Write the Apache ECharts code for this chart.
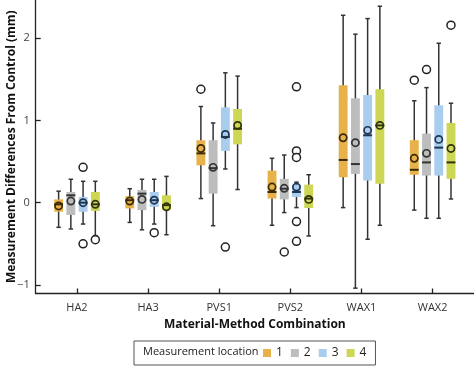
<!DOCTYPE html>
<html>
<head>
<meta charset="utf-8">
<script src="https://cdn.jsdelivr.net/npm/echarts@6/dist/echarts.min.js"></script>
<style>
html,body{margin:0;padding:0;background:#fff;}
#chart{width:474px;height:366px;}
</style>
</head>
<body>
<div id="chart"></div>
<script>
// ---- data ----
const categories = ['HA2', 'HA3', 'PVS1', 'PVS2', 'WAX1', 'WAX2'];
const locations = ['1', '2', '3', '4'];
const yTicks = [-1, 0, 1, 2];

// [whiskerLow, Q1, median, Q3, whiskerHigh] per category
const loc1Box = [
  [-0.30, -0.11, -0.02, 0.04, 0.14],
  [-0.24, -0.07, 0.03, 0.08, 0.17],
  [0.05, 0.455, 0.60, 0.76, 1.17],
  [-0.275, 0.05, 0.13, 0.39, 0.54],
  [-0.06, 0.31, 0.52, 1.43, 2.28],
  [-0.09, 0.34, 0.40, 0.76, 1.24]
];
const loc2Box = [
  [-0.32, -0.15, 0.09, 0.13, 0.285],
  [-0.33, -0.09, 0.11, 0.155, 0.285],
  [-0.28, 0.11, 0.42, 0.76, 0.97],
  [-0.12, 0.04, 0.17, 0.29, 0.58],
  [-1.04, 0.35, 0.47, 1.27, 2.05],
  [-0.19, 0.33, 0.49, 0.84, 1.40]
];
const loc3Box = [
  [-0.26, -0.11, 0.0, 0.07, 0.26],
  [-0.26, -0.05, 0.03, 0.13, 0.285],
  [0.41, 0.63, 0.80, 1.16, 1.58],
  [-0.06, 0.07, 0.13, 0.22, 0.25],
  [-0.445, 0.27, 0.82, 1.31, 2.24],
  [-0.19, 0.33, 0.67, 1.185, 1.94]
];
const loc4Box = [
  [-0.40, -0.10, -0.02, 0.13, 0.26],
  [-0.39, -0.09, -0.03, 0.09, 0.32],
  [0.16, 0.71, 0.90, 1.14, 1.54],
  [-0.405, -0.065, 0.05, 0.22, 0.34],
  [-0.275, 0.23, 0.94, 1.38, 2.39],
  [0.045, 0.29, 0.49, 0.97, 1.21]
];
// means per category
const loc1Mean = [-0.04, 0.02, 0.66, 0.19, 0.79, 0.54];
const loc2Mean = [0.02, 0.04, 0.43, 0.175, 0.73, 0.60];
const loc3Mean = [0.0, 0.03, 0.83, 0.19, 0.88, 0.77];
const loc4Mean = [-0.02, -0.05, 0.94, 0.04, 0.94, 0.66];
// outliers [categoryIndex, value]
const loc1Out = [[2, 1.38], [5, 1.49]];
const loc2Out = [[3, -0.60], [5, 1.62]];
const loc3Out = [[0, 0.43], [0, -0.50], [1, -0.365], [2, -0.54], [3, 1.41], [3, 0.63], [3, 0.55], [3, -0.23], [3, -0.47]];
const loc4Out = [[0, -0.45], [5, 2.16]];

// ---- styling ----
const boxColors = ['#E8B24A', '#BDBDBD', '#A9CDEE', '#CDD655'];
const darkColors = ['#3a2a08', '#333333', '#1f3550', '#30330c'];
const FONT = 'Open Sans';

const boxes = [loc1Box, loc2Box, loc3Box, loc4Box];
const means = [loc1Mean, loc2Mean, loc3Mean, loc4Mean];
const outs = [loc1Out, loc2Out, loc3Out, loc4Out];

function boxRenderer(k) {
  return function (params, api) {
    const cat = api.value(0);
    const bw = api.size([1, 0])[0];
    const off = (k - 1.5) * bw * 0.172;
    const boxW = bw * 0.125;
    const capW = bw * 0.062;
    const pLo = api.coord([cat, api.value(1)]);
    const pQ1 = api.coord([cat, api.value(2)]);
    const pMed = api.coord([cat, api.value(3)]);
    const pQ3 = api.coord([cat, api.value(4)]);
    const pHi = api.coord([cat, api.value(5)]);
    const pMean = api.coord([cat, api.value(6)]);
    const x = pLo[0] + off;
    const lineStyle = { stroke: '#333', lineWidth: 1.5 };
    return {
      type: 'group',
      children: [
        { type: 'line', shape: { x1: x, y1: pHi[1], x2: x, y2: pLo[1] }, style: lineStyle },
        { type: 'line', shape: { x1: x - capW / 2, y1: pHi[1], x2: x + capW / 2, y2: pHi[1] }, style: lineStyle },
        { type: 'line', shape: { x1: x - capW / 2, y1: pLo[1], x2: x + capW / 2, y2: pLo[1] }, style: lineStyle },
        { type: 'rect', shape: { x: x - boxW / 2, y: pQ3[1], width: boxW, height: pQ1[1] - pQ3[1] }, style: { fill: boxColors[k] } },
        { type: 'line', shape: { x1: x - boxW / 2, y1: pMed[1], x2: x + boxW / 2, y2: pMed[1] }, style: { stroke: darkColors[k], lineWidth: 2 } },
        { type: 'circle', shape: { cx: x, cy: pMean[1], r: 3.6 }, style: { fill: 'none', stroke: darkColors[k], lineWidth: 1.7 } }
      ]
    };
  };
}

function outRenderer(k) {
  return function (params, api) {
    const cat = api.value(0);
    const bw = api.size([1, 0])[0];
    const off = (k - 1.5) * bw * 0.172;
    const p = api.coord([cat, api.value(1)]);
    return {
      type: 'circle',
      shape: { cx: p[0] + off, cy: p[1], r: 4 },
      style: { fill: '#fff', stroke: '#222', lineWidth: 1.5 }
    };
  };
}

const series = [];
locations.forEach(function (name, k) {
  const data = boxes[k].map(function (b, i) { return [i].concat(b).concat([means[k][i]]); });
  series.push({
    type: 'custom', name: name, xAxisIndex: 0, yAxisIndex: 0,
    itemStyle: { color: boxColors[k] },
    renderItem: boxRenderer(k),
    encode: { x: 0, y: [1, 2, 3, 4, 5, 6] },
    data: data, z: 2
  });
});
locations.forEach(function (name, k) {
  series.push({
    type: 'custom', name: name, xAxisIndex: 0, yAxisIndex: 0,
    itemStyle: { color: boxColors[k] },
    renderItem: outRenderer(k),
    encode: { x: 0, y: 1 },
    data: outs[k], z: 3
  });
});

const GRID_BOTTOM = 72.5;
const chart = echarts.init(document.getElementById('chart'), null, { renderer: 'canvas' });
chart.setOption({
  animation: false,
  backgroundColor: '#fff',
  textStyle: { fontFamily: FONT },
  grid: [
    { left: 41.4, right: 5.8, top: 0, bottom: GRID_BOTTOM, containLabel: false, outerBoundsMode: 'none' },
    { left: 35.7, right: 0, top: 0, bottom: GRID_BOTTOM, containLabel: false, outerBoundsMode: 'none' }
  ],
  xAxis: [
    {
      type: 'category', gridIndex: 0, data: categories,
      axisLine: { show: false, onZero: false },
      axisTick: { show: true, inside: true, alignWithLabel: true, length: 5, lineStyle: { color: '#222', width: 1.3 } },
      axisLabel: { margin: 9, color: '#333', fontSize: 11, fontFamily: FONT },
      name: 'Material-Method Combination', nameLocation: 'middle', nameGap: 25, nameMoveOverlap: false,
      nameTextStyle: { fontWeight: 'bold', fontSize: 12, color: '#111', fontFamily: FONT },
      splitLine: { show: false }
    },
    {
      type: 'value', gridIndex: 1, min: 0, max: 1,
      axisLine: { show: true, onZero: false, lineStyle: { color: '#222', width: 1.3 } },
      axisTick: { show: false }, axisLabel: { show: false }, splitLine: { show: false }
    }
  ],
  yAxis: [
    {
      type: 'value', gridIndex: 0, min: -1.105, max: 2.466, offset: 5.7,
      axisLine: { show: true, onZero: false, lineStyle: { color: '#222', width: 1.3 } },
      axisTick: { show: true, inside: true, length: 5, customValues: yTicks, lineStyle: { color: '#222', width: 1.3 } },
      axisLabel: {
        margin: 6, color: '#444', fontSize: 11, fontFamily: FONT, customValues: yTicks,
        formatter: function (v) { return v < 0 ? '\u2212' + Math.abs(v) : String(v); }
      },
      splitLine: { show: false },
      name: 'Measurement Differences From Control (mm)', nameLocation: 'middle', nameGap: 18, nameRotate: 90,
      nameMoveOverlap: false,
      nameTextStyle: { fontWeight: 'bold', fontSize: 12, color: '#111', fontFamily: FONT }
    },
    { type: 'value', gridIndex: 1, show: false, min: 0, max: 1 }
  ],
  legend: {
    data: locations,
    left: 134, top: 341,
    padding: [6, 9, 6, 129],
    borderColor: '#555', borderWidth: 1,
    icon: 'rect', itemWidth: 8, itemHeight: 8, itemGap: 8,
    textStyle: { fontSize: 12, color: '#222', fontFamily: FONT },
    selectedMode: false
  },
  graphic: [
    {
      type: 'text', left: 143, top: 346,
      style: { text: 'Measurement location', font: '11px "Open Sans"', fill: '#222' }
    }
  ],
  series: series
});
</script>
</body>
</html>
